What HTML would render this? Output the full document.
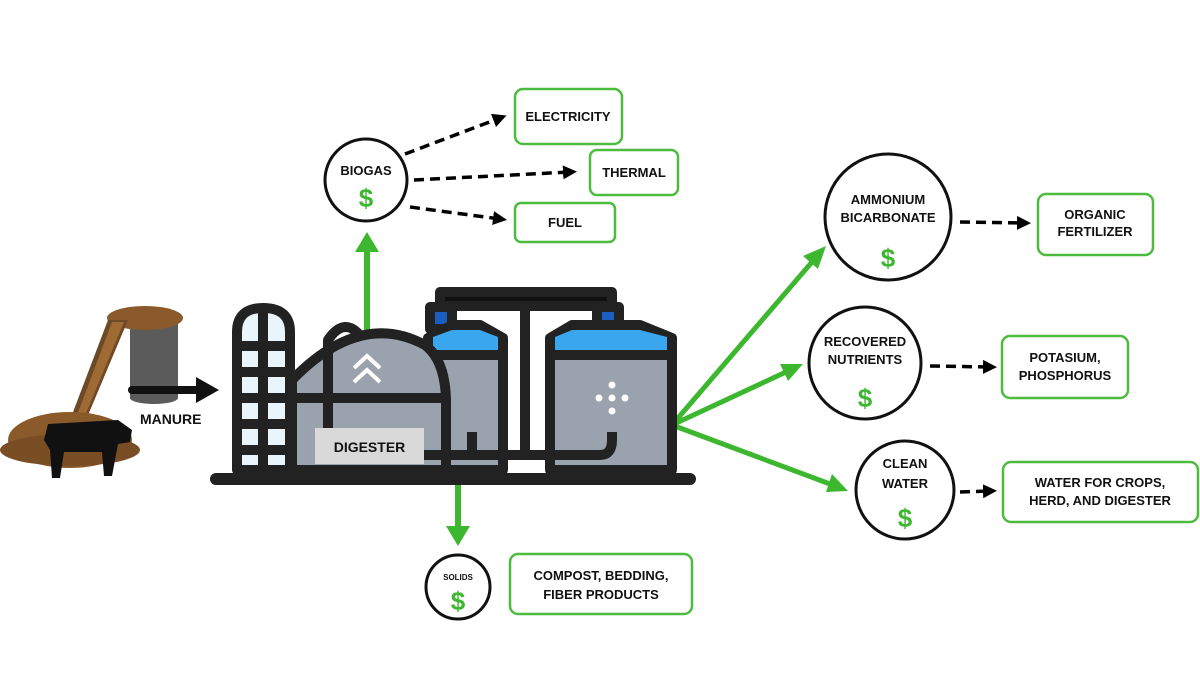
<!DOCTYPE html>
<html><head><meta charset="utf-8"><style>
html,body{margin:0;padding:0;background:#fff}
svg{display:block}
text{font-family:"Liberation Sans",sans-serif;font-weight:bold;fill:#111}
</style></head><body>
<svg width="1200" height="676" viewBox="0 0 1200 676" xmlns="http://www.w3.org/2000/svg">
<defs>
<marker id="ah" markerWidth="4" markerHeight="4" refX="2" refY="2" orient="auto" markerUnits="strokeWidth"><path d="M0,0 L4,2 L0,4 Z" fill="#000"/></marker>
</defs>

<!-- manure illustration -->
<rect x="130" y="318" width="48" height="80" fill="#5b5b5b"/>
<ellipse cx="154" cy="398" rx="24" ry="6" fill="#5b5b5b"/>
<ellipse cx="145" cy="318" rx="38" ry="12" fill="#8a5a2b"/>
<polygon points="108,320 128,320 86,420 70,420" fill="#6d4a26"/>
<polygon points="112,322 124,322 84,418 76,418" fill="#a06a34"/>
<ellipse cx="70" cy="440" rx="62" ry="28" fill="#8a5a2b"/>
<ellipse cx="70" cy="450" rx="70" ry="16" fill="#7a4e25"/>
<path d="M48,424 L118,420 L132,430 L130,442 L118,444 L112,476 L104,476 L102,452 L64,452 L60,478 L52,478 L50,450 L44,440 Z" fill="#111"/>
<!-- manure arrow -->
<line x1="132" y1="390" x2="200" y2="390" stroke="#111" stroke-width="8" stroke-linecap="round"/>
<polygon points="196,377 219,390 196,403" fill="#111"/>
<text x="140" y="424" font-size="14">MANURE</text>

<!-- green arrows -->
<line x1="367" y1="330" x2="367" y2="250" stroke="#3cb72f" stroke-width="6"/>
<polygon points="355,252 367,232 379,252" fill="#3cb72f"/>
<line x1="458" y1="480" x2="458" y2="528" stroke="#3cb72f" stroke-width="6"/>
<polygon points="446,526 458,546 470,526" fill="#3cb72f"/>
<line x1="672" y1="425" x2="812" y2="262" stroke="#3cb72f" stroke-width="5"/>
<polygon points="826,246 803,256 818,269" fill="#3cb72f"/>
<line x1="672" y1="425" x2="786" y2="372" stroke="#3cb72f" stroke-width="5"/>
<polygon points="803,364 780,364 788,381" fill="#3cb72f"/>
<line x1="672" y1="425" x2="830" y2="484" stroke="#3cb72f" stroke-width="5"/>
<polygon points="848,491 832,474 826,492" fill="#3cb72f"/>

<!-- digester plant -->
<g stroke="#222" stroke-width="10" stroke-linejoin="round">
<rect x="440" y="292" width="172" height="14" fill="#111"/>
<line x1="525" y1="306" x2="525" y2="460"/>
<rect x="430" y="307" width="22" height="22" fill="#1a5fc0"/>
<polygon points="428,338 452,325 480,325 503,338 503,470 428,470" fill="#9aa3ad"/>
<polygon points="433,337 452,330 480,330 498,337 498,352 433,352" fill="#3aa6ee" stroke="none"/>
<line x1="428" y1="355" x2="503" y2="355"/>
<rect x="597" y="307" width="22" height="22" fill="#1a5fc0"/>
<polygon points="550,338 572,325 640,325 672,338 672,470 550,470" fill="#9aa3ad"/>
<polygon points="555,337 572,330 640,330 667,337 667,352 555,352" fill="#3aa6ee" stroke="none"/>
<line x1="550" y1="355" x2="672" y2="355"/>
<path d="M292,470 L292,380 Q360,310 425,345 Q445,360 446,400 L446,470 Z" fill="#9aa3ad"/>
<line x1="292" y1="398" x2="446" y2="398"/>
<path d="M328,440 L328,340 Q345,315 362,338" fill="none"/>
<path d="M420,455 L600,455 Q612,455 612,440 L612,432" fill="none"/>
<line x1="472" y1="432" x2="472" y2="455"/>
<path d="M237,470 L237,332 Q237,308 263,308 Q290,308 290,332 L290,470 Z" fill="#eaf4fb"/>
<line x1="263" y1="312" x2="263" y2="470"/>
<line x1="237" y1="346" x2="290" y2="346"/>
<line x1="237" y1="372" x2="290" y2="372"/>
<line x1="237" y1="398" x2="290" y2="398"/>
<line x1="237" y1="424" x2="290" y2="424"/>
<line x1="237" y1="450" x2="290" y2="450"/>
</g>
<line x1="216" y1="479" x2="690" y2="479" stroke="#222" stroke-width="12" stroke-linecap="round"/>
<path d="M354,368 L367,356 L380,368 M354,382 L367,370 L380,382" fill="none" stroke="#fff" stroke-width="4"/>
<g fill="#fff"><circle cx="612" cy="385" r="3.5"/><circle cx="612" cy="398" r="3.5"/><circle cx="612" cy="411" r="3.5"/><circle cx="599" cy="398" r="3.5"/><circle cx="625" cy="398" r="3.5"/></g>
<rect x="315" y="428" width="109" height="36" fill="#d9d9d9"/>
<text x="369.5" y="452" font-size="14" text-anchor="middle">DIGESTER</text>

<!-- dashed arrows -->
<g stroke="#000" stroke-width="3.5" stroke-dasharray="10,6" marker-end="url(#ah)" fill="none">
<line x1="405" y1="154" x2="500" y2="118"/>
<line x1="414" y1="180" x2="570" y2="172"/>
<line x1="410" y1="207" x2="500" y2="219"/>
<line x1="960" y1="222" x2="1024" y2="223"/>
<line x1="930" y1="366" x2="990" y2="367"/>
<line x1="960" y1="492" x2="990" y2="491"/>
</g>

<!-- circles -->
<g fill="#fff" stroke="#111" stroke-width="3">
<circle cx="366" cy="180" r="41"/>
<circle cx="888" cy="217" r="63"/>
<circle cx="865" cy="363" r="56"/>
<circle cx="905" cy="490" r="49"/>
<circle cx="458" cy="587" r="32"/>
</g>
<text x="366" y="175" font-size="13" text-anchor="middle">BIOGAS</text>
<text x="366" y="207" font-size="26" text-anchor="middle" style="fill:#3cb72f">$</text>
<text x="888" y="204" font-size="13" text-anchor="middle">AMMONIUM</text>
<text x="888" y="222" font-size="13" text-anchor="middle">BICARBONATE</text>
<text x="888" y="267" font-size="26" text-anchor="middle" style="fill:#3cb72f">$</text>
<text x="865" y="346" font-size="13" text-anchor="middle">RECOVERED</text>
<text x="865" y="364" font-size="13" text-anchor="middle">NUTRIENTS</text>
<text x="865" y="407" font-size="26" text-anchor="middle" style="fill:#3cb72f">$</text>
<text x="905" y="468" font-size="13" text-anchor="middle">CLEAN</text>
<text x="905" y="488" font-size="13" text-anchor="middle">WATER</text>
<text x="905" y="527" font-size="26" text-anchor="middle" style="fill:#3cb72f">$</text>
<text x="458" y="580" font-size="8" text-anchor="middle">SOLIDS</text>
<text x="458" y="610" font-size="26" text-anchor="middle" style="fill:#3cb72f">$</text>

<!-- boxes -->
<g fill="#fff" stroke="#4cbc3f" stroke-width="2.5">
<rect x="515" y="89" width="107" height="55" rx="8"/>
<rect x="590" y="150" width="88" height="45" rx="7"/>
<rect x="515" y="203" width="100" height="39" rx="6"/>
<rect x="1038" y="194" width="115" height="61" rx="8"/>
<rect x="1002" y="336" width="126" height="62" rx="8"/>
<rect x="1003" y="462" width="195" height="60" rx="8"/>
<rect x="510" y="554" width="182" height="60" rx="8"/>
</g>
<text x="568" y="121" font-size="13" text-anchor="middle">ELECTRICITY</text>
<text x="634" y="177" font-size="13" text-anchor="middle">THERMAL</text>
<text x="565" y="227" font-size="13" text-anchor="middle">FUEL</text>
<text x="1095" y="219" font-size="13" text-anchor="middle">ORGANIC</text>
<text x="1095" y="236" font-size="13" text-anchor="middle">FERTILIZER</text>
<text x="1065" y="362" font-size="13" text-anchor="middle">POTASIUM,</text>
<text x="1065" y="380" font-size="13" text-anchor="middle">PHOSPHORUS</text>
<text x="1100" y="487" font-size="13" text-anchor="middle">WATER FOR CROPS,</text>
<text x="1100" y="505" font-size="13" text-anchor="middle">HERD, AND DIGESTER</text>
<text x="601" y="580" font-size="13" text-anchor="middle">COMPOST,  BEDDING,</text>
<text x="601" y="599" font-size="13" text-anchor="middle">FIBER PRODUCTS</text>
</svg>
</body></html>
